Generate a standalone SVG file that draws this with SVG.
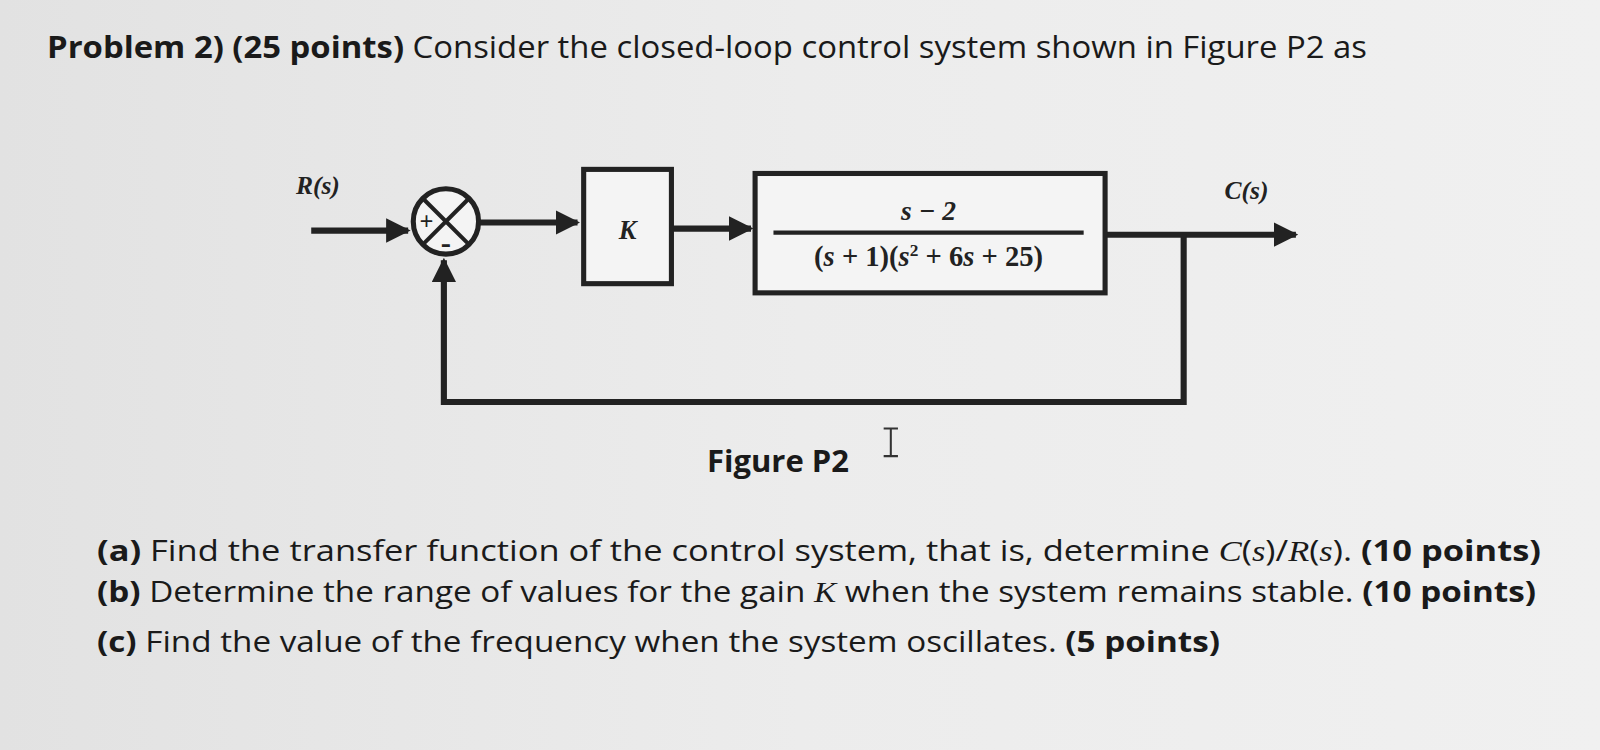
<svg xmlns="http://www.w3.org/2000/svg" width="1600" height="750" viewBox="0 0 1600 750">
<defs>
<linearGradient id="bg" x1="0" y1="0" x2="1" y2="0"><stop offset="0" stop-color="#e2e2e2"/><stop offset="0.5" stop-color="#ececec"/><stop offset="1" stop-color="#f0f0f0"/></linearGradient>
<marker id="ar" viewBox="0 0 10 10" refX="9" refY="5" markerWidth="4" markerHeight="4" orient="auto"><path d="M0,0 L10,5 L0,10 z" fill="#222"/></marker>
</defs>
<style>
.t{font-family:"Open Sans","Liberation Sans",sans-serif;font-size:31px;fill:#1a1a1a}
.q{font-size:29px}
.b{font-weight:bold}
.d{font-family:"Liberation Serif",serif;font-weight:bold;fill:#222}
.ln{stroke:#222;stroke-width:6;fill:none}
.bx{stroke:#222;stroke-width:5;fill:#f4f4f4}
</style>
<rect width="1600" height="750" fill="url(#bg)"/>
<text class="t" x="47" y="58" textLength="1320" lengthAdjust="spacingAndGlyphs"><tspan class="b">Problem 2) (25 points)</tspan> Consider the closed-loop control system shown in Figure P2 as</text>
<g transform="scale(1.0204)">
<g id="connectors">
<line class="ln" x1="305" y1="226" x2="400" y2="226" marker-end="url(#ar)"/>
<line class="ln" x1="470" y1="218" x2="566" y2="218" marker-end="url(#ar)"/>
<line class="ln" x1="658" y1="224" x2="736" y2="224" marker-end="url(#ar)"/>
<line class="ln" x1="1083" y1="230" x2="1270" y2="230" marker-end="url(#ar)"/>
<polyline class="ln" points="1160,230 1160,394 435,394 435,255" marker-end="url(#ar)"/>
</g>
<g id="R"><text class="d" x="290" y="190" font-size="25" font-style="italic">R(s)</text></g>
<g id="C"><text class="d" x="1200" y="195" font-size="25" font-style="italic">C(s)</text></g>
<g id="sum">
<circle cx="437" cy="217" r="32" fill="#f4f4f4" stroke="#222" stroke-width="5"/>
<line x1="414" y1="194" x2="460" y2="240" stroke="#222" stroke-width="4"/>
<line x1="460" y1="194" x2="414" y2="240" stroke="#222" stroke-width="4"/>
<text class="d" x="418" y="225" font-size="24" text-anchor="middle">+</text>
<text class="d" x="437" y="248" font-size="30" text-anchor="middle">-</text>
</g>
<g id="K"><rect class="bx" x="572" y="166" width="86" height="112"/>
<text class="d" x="615" y="234" font-size="26" font-style="italic" text-anchor="middle">K</text></g>
<g id="G"><rect class="bx" x="740" y="170" width="343" height="117"/>
<text class="d" x="910" y="216" font-size="27" text-anchor="middle" font-style="italic">s − 2</text>
<line x1="758" y1="228" x2="1062" y2="228" stroke="#222" stroke-width="4"/>
<text class="d" x="910" y="261" font-size="28" text-anchor="middle">(<tspan font-style="italic">s</tspan> + 1)(<tspan font-style="italic">s</tspan><tspan dy="-10" font-size="17">2</tspan><tspan dy="10"> + 6</tspan><tspan font-style="italic">s</tspan> + 25)</text></g>
<g id="cursor"><path d="M866,420 h14 M873,420 v27 M866,447 h14" stroke="#333" stroke-width="2" fill="none"/></g>
</g>
<text class="t b" x="707" y="472">Figure P2</text>
<text class="t q" x="97" y="561" textLength="1444" lengthAdjust="spacingAndGlyphs"><tspan class="b">(a)</tspan> Find the transfer function of the control system, that is, determine <tspan font-family="Liberation Serif" font-style="italic">C</tspan>(<tspan font-family="Liberation Serif" font-style="italic">s</tspan>)/<tspan font-family="Liberation Serif" font-style="italic">R</tspan>(<tspan font-family="Liberation Serif" font-style="italic">s</tspan>). <tspan class="b">(10 points)</tspan></text>
<text class="t q" x="97" y="602" textLength="1439" lengthAdjust="spacingAndGlyphs"><tspan class="b">(b)</tspan> Determine the range of values for the gain <tspan font-family="Liberation Serif" font-style="italic">K</tspan> when the system remains stable. <tspan class="b">(10 points)</tspan></text>
<text class="t q" x="97" y="652" textLength="1123" lengthAdjust="spacingAndGlyphs"><tspan class="b">(c)</tspan> Find the value of the frequency when the system oscillates. <tspan class="b">(5 points)</tspan></text>
</svg>
